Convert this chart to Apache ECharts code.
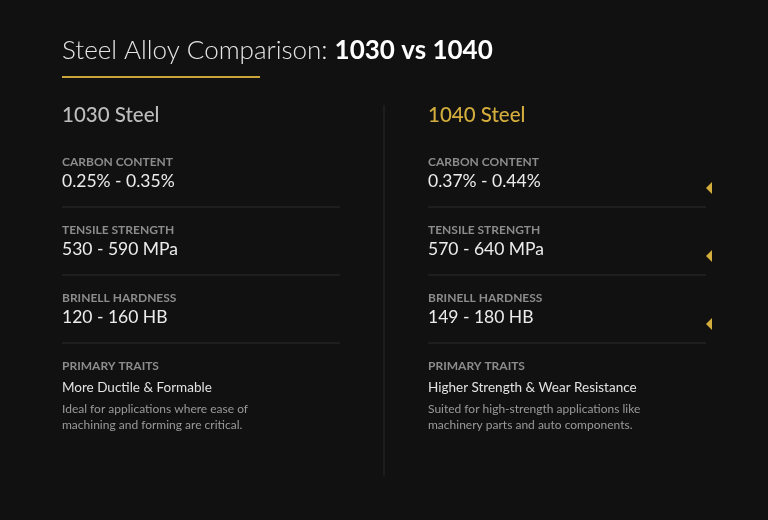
<!DOCTYPE html>
<html>
<head>
<meta charset="utf-8">
<script src="https://cdn.jsdelivr.net/npm/echarts@6/dist/echarts.min.js"></script>
<style>
  html, body { margin: 0; padding: 0; background: #111111; }
  #chart { width: 768px; height: 520px; }
</style>
</head>
<body>
<div id="chart"></div>
<script>
// data
const alloys = ['1030 Steel', '1040 Steel'];
const propLabels = ['CARBON CONTENT', 'TENSILE STRENGTH', 'BRINELL HARDNESS'];
const values1030 = ['0.25% - 0.35%', '530 - 590 MPa', '120 - 160 HB'];
const values1040 = ['0.37% - 0.44%', '570 - 640 MPa', '149 - 180 HB'];
const traitTitles = ['More Ductile & Formable', 'Higher Strength & Wear Resistance'];
const traitDescs = [
  ['Ideal for applications where ease of', 'machining and forming are critical.'],
  ['Suited for high-strength applications like', 'machinery parts and auto components.']
];
const higherIn1040 = [true, true, true];

const FONT = 'Lato, "Noto Sans", sans-serif';
const GOLD = '#d4ae3c';
const colX = [62, 428];
const colW = 278;
const rowY = [163, 231, 299];

const chart = echarts.init(document.getElementById('chart'));
const els = [];

function text(x, y, t, size, color, weight) {
  els.push({
    type: 'text', left: x, top: y - size * 0.6,
    style: { text: t, fontSize: size, fill: color, fontFamily: FONT, fontWeight: weight || 'normal' }
  });
}

// title
els.push({
  type: 'text', left: 62, top: 38,
  style: {
    text: '{a|Steel Alloy Comparison: }{b|1030 vs 1040}',
    rich: {
      a: { fontSize: 26, fill: '#e6e6e6', fontFamily: FONT, fontWeight: 300 },
      b: { fontSize: 26, fill: '#ffffff', fontFamily: FONT, fontWeight: 'bold' }
    }
  }
});
els.push({ type: 'rect', shape: { x: 62, y: 76, width: 198, height: 2 }, style: { fill: '#c9a43a' } });

// divider
els.push({ type: 'line', shape: { x1: 384, y1: 105, x2: 384, y2: 476 }, style: { stroke: '#2a2a2a', lineWidth: 1 } });

[values1030, values1040].forEach((vals, c) => {
  const x = colX[c];
  text(x, 117, alloys[c], 20.5, c === 0 ? '#bdbdbd' : GOLD, 500);
  vals.forEach((v, i) => {
    text(x, rowY[i], propLabels[i], 12, '#8c8c8c', 'bold');
    text(x, rowY[i] + 20, v, 17.5, '#ececec');
    els.push({ type: 'line', shape: { x1: x, y1: rowY[i] + 44, x2: x + colW, y2: rowY[i] + 44 },
      style: { stroke: '#2c2c2c', lineWidth: 1 } });
    if (c === 1 && higherIn1040[i]) {
      const ty = rowY[i] + 25;
      els.push({ type: 'polygon', shape: { points: [[706, ty], [712, ty - 6], [712, ty + 6]] }, style: { fill: GOLD } });
    }
  });
  text(x, 367, 'PRIMARY TRAITS', 12, '#8c8c8c', 'bold');
  text(x, 389, traitTitles[c], 13.5, '#e2e2e2');
  traitDescs[c].forEach((d, j) => text(x, 410 + j * 16, d, 12, '#9a9a9a'));
});

chart.setOption({ backgroundColor: '#111111', graphic: { elements: els } });
</script>
</body>
</html>
